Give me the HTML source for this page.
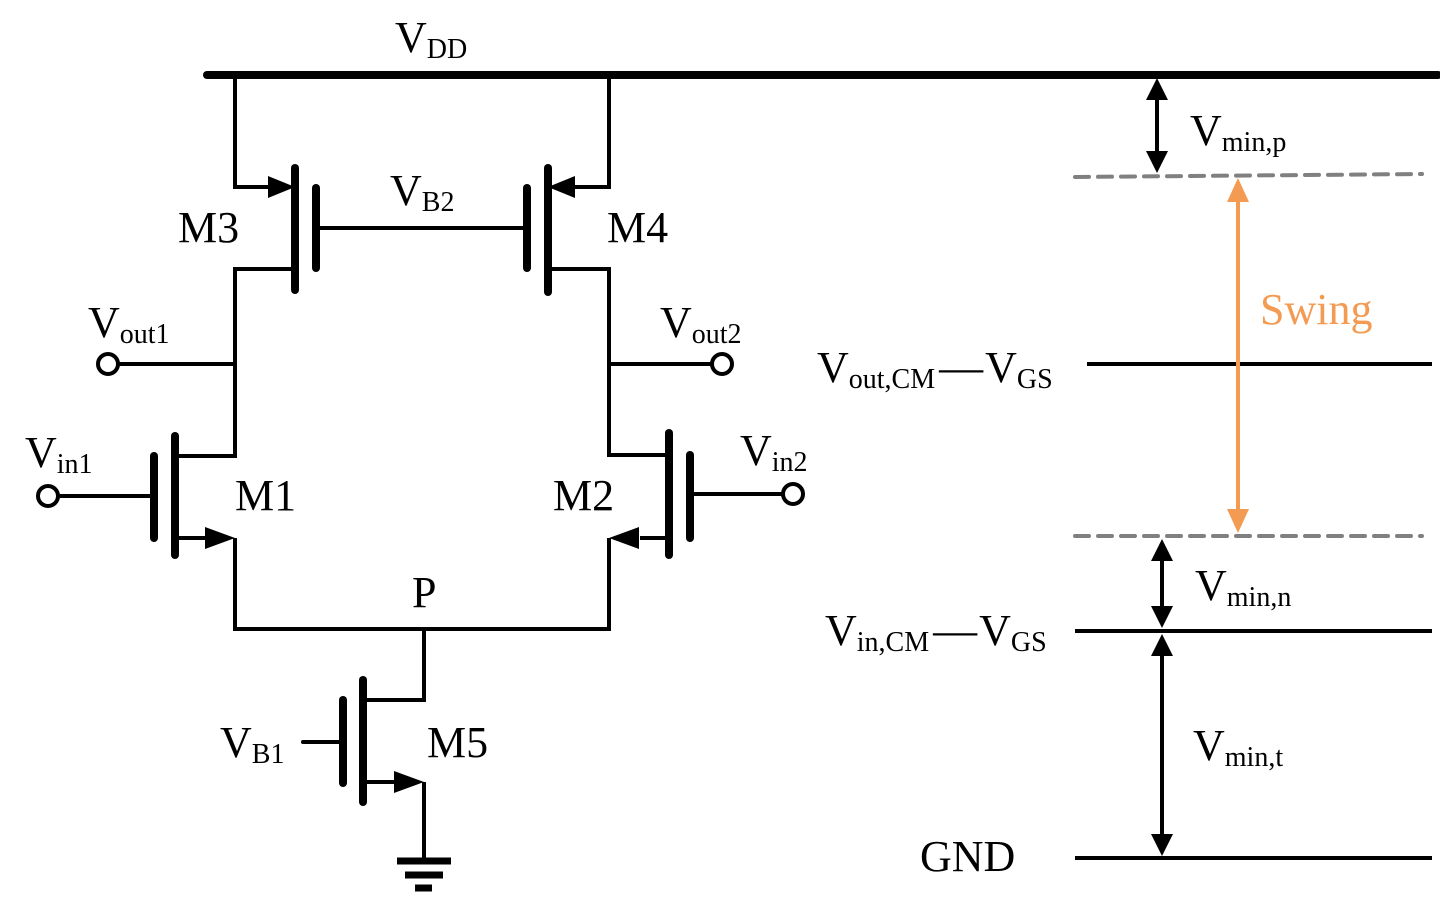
<!DOCTYPE html>
<html><head><meta charset="utf-8"><style>html,body{margin:0;padding:0;background:#fff}svg{display:block}text{font-family:"Liberation Serif",serif;fill:#000}</style></head><body>
<svg width="1440" height="904" viewBox="0 0 1440 904" xmlns="http://www.w3.org/2000/svg">
<g stroke="#000" stroke-width="4" fill="none" stroke-linecap="butt">
<line x1="207" y1="75" x2="1438" y2="75" stroke-width="8" stroke-linecap="round"/>
<polyline points="235,75 235,187 272,187"/>
<line x1="295" y1="168" x2="295" y2="290" stroke-width="8" stroke-linecap="round"/>
<line x1="316" y1="188" x2="316" y2="268" stroke-width="8" stroke-linecap="round"/>
<line x1="316" y1="228" x2="527" y2="228"/>
<polyline points="295,269 235,269 235,456 175,456"/>
<polyline points="609,75 609,187 570,187"/>
<line x1="548" y1="168" x2="548" y2="292" stroke-width="8" stroke-linecap="round"/>
<line x1="527" y1="188" x2="527" y2="268" stroke-width="8" stroke-linecap="round"/>
<polyline points="548,269 609,269 609,455 669,455"/>
<line x1="118" y1="364" x2="235" y2="364"/>
<circle cx="108" cy="364" r="10"/>
<line x1="609" y1="364" x2="712" y2="364"/>
<circle cx="722" cy="364" r="10"/>
<line x1="175" y1="436" x2="175" y2="555" stroke-width="8" stroke-linecap="round"/>
<line x1="154" y1="456" x2="154" y2="538" stroke-width="8" stroke-linecap="round"/>
<line x1="58" y1="496" x2="154" y2="496"/>
<circle cx="48" cy="496" r="10"/>
<line x1="175" y1="538" x2="205" y2="538"/>
<polyline points="235,538 235,629 609,629 609,538"/>
<line x1="669" y1="433" x2="669" y2="555" stroke-width="8" stroke-linecap="round"/>
<line x1="690" y1="455" x2="690" y2="538" stroke-width="8" stroke-linecap="round"/>
<line x1="690" y1="494" x2="783" y2="494"/>
<circle cx="793" cy="494" r="10"/>
<line x1="669" y1="538" x2="640" y2="538"/>
<polyline points="424,629 424,700 363,700"/>
<line x1="363" y1="680" x2="363" y2="802" stroke-width="8" stroke-linecap="round"/>
<line x1="343" y1="700" x2="343" y2="783" stroke-width="8" stroke-linecap="round"/>
<line x1="303" y1="742" x2="343" y2="742" stroke-linecap="round"/>
<line x1="363" y1="782" x2="395" y2="782"/>
<line x1="424" y1="782" x2="424" y2="860"/>
<line x1="397" y1="861" x2="451" y2="861" stroke-width="7"/>
<line x1="405" y1="875" x2="443" y2="875" stroke-width="7"/>
<line x1="415" y1="888" x2="432" y2="888" stroke-width="7"/>
<line x1="1075" y1="177" x2="1422" y2="174" stroke="#808080" stroke-width="4" stroke-dasharray="14,9" stroke-linecap="round"/>
<line x1="1075" y1="536" x2="1422" y2="536" stroke="#808080" stroke-width="4" stroke-dasharray="14,9" stroke-linecap="round"/>
<line x1="1087" y1="364" x2="1432" y2="364"/>
<line x1="1075" y1="631" x2="1432" y2="631"/>
<line x1="1075" y1="858" x2="1432" y2="858"/>
<line x1="1157" y1="95" x2="1157" y2="155"/>
<line x1="1162" y1="558" x2="1162" y2="610"/>
<line x1="1162" y1="653" x2="1162" y2="836"/>
<line x1="1238" y1="198" x2="1238" y2="515" stroke="#F39B52"/>
</g>
<g fill="#000">
<polygon points="295,187 268,176 268,198"/>
<polygon points="548,187 575,176 575,198"/>
<polygon points="235,538 205,527 205,549"/>
<polygon points="609,538 639,527 639,549"/>
<polygon points="424,782 394,771 394,793"/>
<polygon points="1157,78 1146,100 1168,100"/>
<polygon points="1157,173 1146,151 1168,151"/>
<polygon points="1162,539 1151,561 1173,561"/>
<polygon points="1162,628 1151,606 1173,606"/>
<polygon points="1162,634 1151,656 1173,656"/>
<polygon points="1162,856 1151,834 1173,834"/>
<polygon points="1238,178 1227,202 1249,202" fill="#F39B52"/>
<polygon points="1238,533 1227,509 1249,509" fill="#F39B52"/>
</g>
<g font-size="44">
<text x="395" y="52">V<tspan font-size="28" dy="6">DD</tspan></text>
<text x="390" y="205">V<tspan font-size="28" dy="6">B2</tspan></text>
<text x="178" y="242">M3</text>
<text x="607" y="242">M4</text>
<text x="88" y="337">V<tspan font-size="28" dy="6">out1</tspan></text>
<text x="660" y="337">V<tspan font-size="28" dy="6">out2</tspan></text>
<text x="25" y="467">V<tspan font-size="28" dy="6">in1</tspan></text>
<text x="740" y="465">V<tspan font-size="28" dy="6">in2</tspan></text>
<text x="235" y="510">M1</text>
<text x="553" y="510">M2</text>
<text x="412" y="607">P</text>
<text x="220" y="757">V<tspan font-size="28" dy="6">B1</tspan></text>
<text x="427" y="757">M5</text>
<text x="1190" y="145">V<tspan font-size="28" dy="6">min,p</tspan></text>
<text x="1260" y="324" style="fill:#F39B52">Swing</text>
<text x="817" y="382">V<tspan font-size="28" dy="6">out,CM</tspan><tspan dy="-6" dx="4">—</tspan><tspan dx="2">V</tspan><tspan font-size="28" dy="6">GS</tspan></text>
<text x="1195" y="600">V<tspan font-size="28" dy="6">min,n</tspan></text>
<text x="825" y="645">V<tspan font-size="28" dy="6">in,CM</tspan><tspan dy="-6" dx="4">—</tspan><tspan dx="2">V</tspan><tspan font-size="28" dy="6">GS</tspan></text>
<text x="1193" y="760">V<tspan font-size="28" dy="6">min,t</tspan></text>
<text x="920" y="871">GND</text>
</g>
</svg>
</body></html>
